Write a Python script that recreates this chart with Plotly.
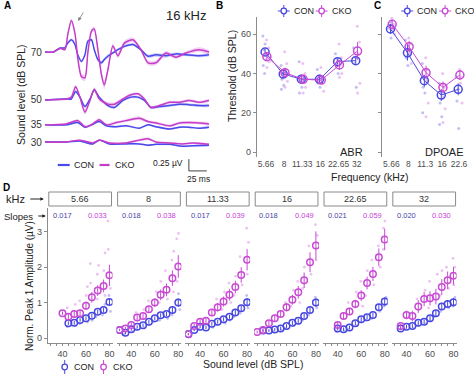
import plotly.graph_objects as go

# ======================= DATA =======================
# Panel A: mean ABR waveforms at 16 kHz (µV) with SEM, per sound level
levels_A = ["70", "50", "35", "30"]

t70 = [0, 12, 21, 28, 32, 37, 42, 46, 51, 56, 60, 65, 69, 74, 79, 83, 88, 95, 102, 111, 123, 134, 144, 155, 169, 183, 197, 215, 229]
con70 = [0, 0, 0.08, 0.09, 0.19, 0.26, 0.16, -0.06, -0.20, -0.06, 0.23, 0.26, 0.05, -0.16, -0.23, -0.16, -0.09, -0.02, 0.05, 0.12, 0.16, 0.05, -0.09, -0.06, -0.08, -0.04, -0.06, -0.08, -0.06]
cko70 = [0, 0, 0.08, 0.05, 0.37, 0.67, 0.40, -0.13, -0.52, -0.55, -0.02, 0.44, 0.49, 0.05, -0.48, -0.70, -0.38, 0.13, -0.08, 0.19, 0.26, 0.05, -0.23, -0.23, -0.02, -0.11, -0.02, 0.05, 0]
con70_se = [0.01, 0.01, 0.02, 0.02, 0.03, 0.03, 0.03, 0.03, 0.03, 0.03, 0.03, 0.03, 0.03, 0.03, 0.04, 0.04, 0.04, 0.03, 0.03, 0.03, 0.03, 0.03, 0.04, 0.04, 0.04, 0.03, 0.03, 0.03, 0.03]
cko70_se = [0.01, 0.01, 0.02, 0.02, 0.04, 0.05, 0.05, 0.05, 0.06, 0.07, 0.05, 0.05, 0.05, 0.05, 0.07, 0.09, 0.07, 0.05, 0.05, 0.05, 0.05, 0.04, 0.05, 0.05, 0.04, 0.04, 0.04, 0.05, 0.04]

t50 = [0, 30, 37, 43, 49, 56, 63, 69, 76, 88, 97, 109, 120, 130, 139, 148, 160, 174, 188, 201, 215, 229]
con50 = [0, 0.02, 0.02, 0.18, 0.06, -0.14, 0.02, 0.21, 0.06, -0.12, -0.16, -0.01, 0.06, 0.06, -0.01, -0.16, -0.14, -0.12, -0.09, -0.10, -0.12, -0.12]
cko50 = [0, 0.02, 0.06, 0.28, 0.06, -0.26, -0.01, 0.23, 0.02, -0.09, -0.09, 0.02, 0.11, 0.13, 0.02, -0.16, -0.12, -0.05, -0.05, -0.01, -0.05, -0.01]
con50_se = [0.01, 0.02, 0.02, 0.03, 0.03, 0.03, 0.03, 0.03, 0.03, 0.03, 0.03, 0.03, 0.03, 0.03, 0.03, 0.03, 0.03, 0.03, 0.03, 0.03, 0.03, 0.03]
cko50_se = [0.01, 0.02, 0.03, 0.04, 0.04, 0.06, 0.04, 0.04, 0.04, 0.04, 0.04, 0.03, 0.03, 0.03, 0.03, 0.03, 0.03, 0.03, 0.03, 0.03, 0.03, 0.03]

t35 = [0, 30, 46, 56, 65, 76, 86, 100, 113, 132, 144, 155, 174, 188, 201, 215, 229]
con35 = [0, 0, 0.05, -0.05, 0, 0.07, -0.02, -0.04, -0.02, -0.07, 0, -0.04, -0.09, -0.05, -0.05, -0.07, -0.05]
cko35 = [0, 0.02, 0.09, -0.04, 0, 0.11, 0, 0.05, 0.09, 0.14, 0.07, 0.04, -0.02, 0.04, 0.05, 0.04, 0.02]
con35_se = [0.01, 0.02, 0.02, 0.02, 0.02, 0.02, 0.02, 0.02, 0.02, 0.02, 0.02, 0.02, 0.02, 0.02, 0.02, 0.02, 0.02]
cko35_se = [0.01, 0.02, 0.03, 0.03, 0.03, 0.03, 0.03, 0.03, 0.03, 0.04, 0.03, 0.03, 0.03, 0.03, 0.03, 0.03, 0.03]

t30 = [0, 30, 49, 67, 76, 90, 113, 132, 144, 155, 174, 192, 206, 229]
con30 = [0, 0, 0.02, -0.04, 0.04, -0.04, -0.04, -0.04, -0.07, -0.05, -0.05, -0.09, -0.08, -0.07]
cko30 = [0, 0, 0.04, -0.02, 0.04, -0.02, -0.02, 0.04, 0.07, 0, -0.02, -0.04, -0.02, -0.05]
con30_se = [0.01, 0.01, 0.02, 0.02, 0.02, 0.02, 0.02, 0.02, 0.02, 0.02, 0.02, 0.02, 0.02, 0.02]
cko30_se = [0.01, 0.01, 0.02, 0.02, 0.02, 0.02, 0.02, 0.03, 0.03, 0.02, 0.02, 0.02, 0.02, 0.02]

# Panel B: ABR thresholds (dB SPL)
freq_B = ["5.66", "8", "11.33", "16", "22.65", "32"]
abr_con = [50.9, 39.7, 37.1, 37.0, 46.0, 46.5]
abr_con_se = [1.5, 2.0, 1.5, 1.5, 1.5, 1.5]
abr_cko = [48.5, 40.4, 37.0, 36.6, 44.3, 51.4]
abr_cko_se = [2.0, 2.5, 2.0, 2.0, 2.5, 4.5]
abr_con_ind = [[59, 55, 52, 47, 44, 40], [44, 40, 37, 34, 32], [46, 39, 36, 33, 30], [42, 39, 35, 33], [50, 47, 44, 40], [53, 48, 45, 33]]
abr_cko_ind = [[57, 53, 49, 46, 43], [51, 45, 42, 36, 33], [45, 40, 36, 33, 30], [43, 38, 35, 31], [55, 48, 44, 40, 38], [64, 56, 50, 35, 30]]

# Panel C: DPOAE thresholds (dB SPL)
freq_C = ["5.66", "8", "11.3", "16", "22.6"]
dp_con = [62.6, 50.5, 36.3, 29.0, 31.9]
dp_con_se = [2.5, 4.0, 3.0, 3.0, 3.0]
dp_cko = [65.0, 53.6, 40.4, 32.9, 39.2]
dp_cko_se = [2.0, 3.0, 3.5, 3.0, 2.5]
dp_con_ind = [[70, 66, 63, 58], [57, 52, 48, 44], [45, 38, 33, 30, 20], [35, 30, 25, 18, 14], [38, 32, 26, 12]]
dp_cko_ind = [[68, 65, 62, 60], [58, 55, 50, 45], [48, 42, 36, 25, 18], [40, 33, 28, 22, 15], [42, 38, 35, 25]]

# Panel D: normalised peak 1 amplitude vs sound level, per frequency
freq_D = ["5.66", "8", "11.33", "16", "22.65", "32"]
slopes_con = ["0.017", "0.018", "0.017", "0.018", "0.021", "0.020"]
slopes_cko = ["0.033", "0.038", "0.039", "0.049", "0.059", "0.030"]

lvl_con = [
    [45, 50, 55, 60, 65, 70, 75, 80],
    [30, 35, 40, 45, 50, 55, 60, 65, 70, 75, 80],
    [30, 35, 40, 45, 50, 55, 60, 65, 70, 75, 80],
    [35, 40, 45, 50, 55, 60, 65, 70, 75, 80],
    [40, 45, 50, 55, 60, 65, 70, 75, 80],
    [35, 40, 45, 50, 55, 60, 65, 70, 75, 80],
]
lvl_cko = [
    [40, 45, 50, 55, 60, 65, 70, 75, 80],
    [30, 35, 40, 45, 50, 55, 60, 65, 70, 75, 80],
    [30, 35, 40, 45, 50, 55, 60, 65, 70, 75, 80],
    [30, 35, 40, 45, 50, 55, 60, 65, 70, 75, 80],
    [40, 45, 50, 55, 60, 65, 70, 75, 80],
    [35, 40, 45, 50, 55, 60, 65, 70, 75, 80],
]
amp_con = [
    [0.42, 0.43, 0.51, 0.56, 0.63, 0.74, 0.79, 1.02],
    [0.23, 0.15, 0.25, 0.32, 0.36, 0.46, 0.56, 0.64, 0.68, 0.79, 1.00],
    [0.11, 0.23, 0.32, 0.30, 0.40, 0.46, 0.53, 0.60, 0.72, 0.84, 1.01],
    [0.21, 0.21, 0.24, 0.27, 0.34, 0.43, 0.49, 0.62, 0.79, 1.00],
    [0.27, 0.25, 0.30, 0.42, 0.53, 0.59, 0.65, 0.87, 1.03],
    [0.27, 0.32, 0.34, 0.43, 0.46, 0.56, 0.70, 0.89, 0.96, 1.01],
]
amp_cko = [
    [0.70, 0.60, 0.68, 0.70, 0.91, 1.15, 1.34, 1.47, 1.77],
    [0.23, 0.27, 0.37, 0.58, 0.62, 0.81, 1.00, 1.22, 1.36, 1.69, 2.02],
    [0.11, 0.34, 0.46, 0.49, 0.72, 0.87, 1.03, 1.22, 1.44, 1.78, 2.21],
    [0.17, 0.23, 0.42, 0.56, 0.68, 0.87, 1.08, 1.29, 1.63, 2.14, 2.61],
    [0.37, 0.62, 0.75, 0.96, 1.20, 1.55, 1.81, 2.28, 2.78],
    [0.34, 0.65, 0.62, 0.89, 1.10, 1.12, 1.17, 1.44, 1.63, 1.76],
]
se_con = [
    [0.05, 0.05, 0.05, 0.05, 0.06, 0.06, 0.07, 0.10],
    [0.03, 0.04, 0.04, 0.04, 0.05, 0.05, 0.05, 0.06, 0.06, 0.08, 0.12],
    [0.03, 0.04, 0.04, 0.05, 0.05, 0.05, 0.06, 0.06, 0.07, 0.08, 0.12],
    [0.04, 0.04, 0.04, 0.05, 0.05, 0.06, 0.06, 0.07, 0.09, 0.12],
    [0.05, 0.05, 0.05, 0.06, 0.06, 0.06, 0.07, 0.09, 0.12],
    [0.05, 0.05, 0.05, 0.06, 0.06, 0.07, 0.08, 0.10, 0.10, 0.12],
]
se_cko = [
    [0.05, 0.08, 0.10, 0.10, 0.12, 0.15, 0.15, 0.18, 0.30],
    [0.03, 0.05, 0.06, 0.08, 0.08, 0.10, 0.12, 0.15, 0.18, 0.22, 0.32],
    [0.03, 0.06, 0.08, 0.08, 0.10, 0.12, 0.14, 0.16, 0.18, 0.22, 0.30],
    [0.04, 0.05, 0.08, 0.10, 0.10, 0.12, 0.14, 0.18, 0.22, 0.28, 0.40],
    [0.08, 0.10, 0.10, 0.12, 0.15, 0.18, 0.20, 0.25, 0.30],
    [0.06, 0.12, 0.15, 0.18, 0.20, 0.20, 0.22, 0.22, 0.25, 0.25],
]
# individual animals (level dB, amplitude) shown as faint dots
dots_cko = [
    [(45, 0.85), (50, 0.95), (55, 1.05), (60, 1.45), (60, 1.2), (65, 2.1), (65, 1.55), (70, 2.05), (70, 1.8), (75, 2.4), (75, 1.9), (80, 3.3), (80, 2.5), (80, 1.4), (70, 1.1), (75, 1.2)],
    [(45, 0.72), (50, 0.8), (55, 1.05), (60, 1.3), (65, 1.6), (65, 1.0), (70, 1.9), (70, 1.1), (75, 2.2), (75, 2.45), (80, 2.95), (80, 2.8), (80, 1.6), (75, 1.3)],
    [(55, 1.1), (60, 1.3), (65, 1.55), (65, 1.0), (70, 1.75), (70, 1.2), (75, 2.3), (75, 1.5), (80, 3.1), (80, 2.7), (80, 1.8), (60, 0.8)],
    [(55, 1.0), (60, 1.35), (65, 1.6), (65, 1.0), (70, 2.0), (70, 1.4), (75, 2.6), (75, 1.8), (80, 3.2), (80, 2.9), (80, 2.2), (60, 0.9)],
    [(50, 1.0), (55, 1.3), (60, 1.6), (60, 0.9), (65, 1.9), (65, 1.2), (70, 2.2), (70, 1.5), (75, 2.6), (75, 2.0), (80, 3.3), (80, 2.5), (80, 3.1)],
    [(50, 1.1), (55, 1.35), (60, 1.6), (65, 1.8), (70, 1.9), (70, 1.2), (75, 2.0), (75, 1.4), (80, 2.25), (80, 2.0), (80, 1.5), (60, 0.85)],
]
dots_con = [
    [(45, 0.32), (50, 0.35), (55, 0.4), (60, 0.45), (65, 0.5), (70, 0.6), (75, 0.65), (80, 0.75), (80, 1.2), (75, 0.95)],
    [(35, 0.1), (40, 0.18), (45, 0.25), (50, 0.28), (55, 0.38), (60, 0.45), (65, 0.5), (70, 0.55), (75, 0.65), (80, 0.8), (80, 1.25)],
    [(40, 0.25), (50, 0.3), (55, 0.38), (60, 0.42), (65, 0.5), (70, 0.6), (75, 0.7), (80, 0.85), (80, 1.2)],
    [(45, 0.18), (50, 0.22), (55, 0.28), (60, 0.35), (65, 0.4), (70, 0.5), (75, 0.65), (80, 0.85), (80, 1.15)],
    [(40, 0.18), (45, 0.2), (50, 0.24), (55, 0.35), (60, 0.45), (65, 0.5), (70, 0.55), (75, 0.75), (80, 0.9), (80, 1.15)],
    [(40, 0.25), (45, 0.28), (50, 0.35), (55, 0.4), (60, 0.48), (65, 0.6), (70, 0.75), (75, 0.85), (80, 0.9), (80, 1.15)],
]
d_tick_vals = [30, 35, 40, 45, 50, 55, 60, 65, 70, 75, 80]
d_tick_text = ["", "", "40", "", "", "", "60", "", "", "", "80"]
group_names = ["CON", "CKO"]

# ======================= STYLE / LAYOUT =======================
W, H = 474, 374
def PX(x): return x / W
def PY(y): return 1 - y / H

FONT = "Liberation Sans, Arial, sans-serif"
CON_C = "#4848e0"
CKO_C = "#c84ad4"
CON_A = "#4a4aec"
CKO_A = "#c43cc8"
CON_F = "rgba(90,90,240,0.28)"
CKO_F = "rgba(210,90,220,0.28)"
CON_DOT = "rgba(80,70,220,0.35)"
CKO_DOT = "rgba(200,80,215,0.35)"
AX = "#8c8c8c"
TK = "#4d4d4d"

fig = go.Figure()

# ---------- Panel A ----------
stack_off = [0.0, -1.02, -1.55, -1.915]   # vertical stacking of the traces (µV)
A_sets = [
    (t70, con70, cko70, con70_se, cko70_se),
    (t50, con50, cko50, con50_se, cko50_se),
    (t35, con35, cko35, con35_se, cko35_se),
    (t30, con30, cko30, con30_se, cko30_se),
]

def add_band(t, y, se, off, color):
    up = [v + s + off for v, s in zip(y, se)]
    lo = [v - s + off for v, s in zip(y, se)]
    fig.add_trace(go.Scatter(x=t + t[::-1], y=up + lo[::-1], fill="toself", fillcolor=color,
                             mode="lines", line=dict(width=0, shape="spline", smoothing=0.7),
                             hoverinfo="skip", showlegend=False, xaxis="x", yaxis="y"))

for i, (t, c, k, cs, ks) in enumerate(A_sets):
    off = stack_off[i]
    add_band(t, c, cs, off, CON_F)
    add_band(t, k, ks, off, CKO_F)
for i, (t, c, k, cs, ks) in enumerate(A_sets):
    off = stack_off[i]
    fig.add_trace(go.Scatter(x=t, y=[v + off for v in c], mode="lines", name="CON",
                             line=dict(color=CON_A, width=1.5, shape="spline", smoothing=0.7),
                             showlegend=False, xaxis="x", yaxis="y"))
    fig.add_trace(go.Scatter(x=t, y=[v + off for v in k], mode="lines", name="CKO",
                             line=dict(color=CKO_A, width=1.5, shape="spline", smoothing=0.7),
                             showlegend=False, xaxis="x", yaxis="y"))

# ---------- Panels B & C ----------
jit = [-0.07, 0.05, -0.02, 0.08, -0.05, 0.02]

def threshold_panel(freqs, con, con_se, cko, cko_se, con_ind, cko_ind, xa, ya):
    idx = list(range(len(freqs)))
    for ind, col, d in ((con_ind, CON_DOT, -0.1), (cko_ind, CKO_DOT, 0.1)):
        xs, ys = [], []
        for i, vals in enumerate(ind):
            for j, v in enumerate(vals):
                xs.append(i + d + jit[j % len(jit)])
                ys.append(v)
        fig.add_trace(go.Scatter(x=xs, y=ys, mode="markers", marker=dict(size=3, color=col),
                                 showlegend=False, hoverinfo="skip", xaxis=xa, yaxis=ya))
    for vals, se, col, name, d in ((con, con_se, CON_C, "CON", -0.05), (cko, cko_se, CKO_C, "CKO", 0.05)):
        fig.add_trace(go.Scatter(x=[i + d for i in idx], y=vals, mode="lines+markers", name=name,
                                 line=dict(color=col, width=1),
                                 marker=dict(symbol="circle-open", size=8, color=col, line=dict(width=1.5, color=col)),
                                 error_y=dict(type="data", array=se, width=0, thickness=1, color=col),
                                 showlegend=False, xaxis=xa, yaxis=ya))

threshold_panel(freq_B, abr_con, abr_con_se, abr_cko, abr_cko_se, abr_con_ind, abr_cko_ind, "x2", "y2")
threshold_panel(freq_C, dp_con, dp_con_se, dp_cko, dp_cko_se, dp_con_ind, dp_cko_ind, "x3", "y3")

# ---------- Panel D ----------
djit = [-1.0, 0.8, -0.4, 1.2, 0.2, -1.3]
for p in range(6):
    xa, ya = f"x{4 + p}", f"y{4 + p}"
    for dots, col in ((dots_con[p], CON_DOT), (dots_cko[p], CKO_DOT)):
        fig.add_trace(go.Scatter(x=[d[0] + djit[j % len(djit)] for j, d in enumerate(dots)],
                                 y=[d[1] for d in dots], mode="markers",
                                 marker=dict(size=2.8, color=col), showlegend=False, hoverinfo="skip",
                                 xaxis=xa, yaxis=ya))
    for lv, amp, se, col, name in ((lvl_con[p], amp_con[p], se_con[p], CON_C, "CON"),
                                   (lvl_cko[p], amp_cko[p], se_cko[p], CKO_C, "CKO")):
        fig.add_trace(go.Scatter(x=lv, y=amp, mode="markers", name=name,
                                 marker=dict(symbol="circle-open", size=6.5, color=col, line=dict(width=1.5, color=col)),
                                 error_y=dict(type="data", array=se, width=0, thickness=1, color=col),
                                 showlegend=False, xaxis=xa, yaxis=ya))

# ---------- axes ----------
lay = dict(
    width=W, height=H, margin=dict(l=0, r=0, t=0, b=0),
    paper_bgcolor="white", plot_bgcolor="white", showlegend=False,
    font=dict(family=FONT, size=10, color="#222"),
)
A_top, A_bot = 15, 178
A_scale = 47.0  # px per µV
lay["xaxis"] = dict(domain=[PX(45), PX(212)], range=[0, 232], visible=False)
lay["yaxis"] = dict(domain=[PY(A_bot), PY(A_top)], range=[-(A_bot - 52) / A_scale, (52 - A_top) / A_scale],
                    tickvals=stack_off, ticktext=levels_A, showline=False, showgrid=False, zeroline=False,
                    ticks="", tickfont=dict(size=10, color="#333"), ticklabelstandoff=2)
thr_rng = [-2.5, 68.7]
lay["xaxis2"] = dict(domain=[PX(258), PX(370)], range=[-0.5, 5.65], tickvals=list(range(len(freq_B))),
                     ticktext=freq_B, tickangle=0, showline=False, showgrid=False, zeroline=False, ticks="",
                     tickfont=dict(size=8.5, color=TK), anchor="y2")
lay["yaxis2"] = dict(domain=[PY(157), PY(17)], range=thr_rng, tickvals=[0, 20, 40, 60],
                     showline=True, linecolor=AX, linewidth=1, ticks="outside", ticklen=3, tickcolor=AX,
                     showgrid=False, zeroline=False, tickfont=dict(size=9, color=TK), anchor="x2")
lay["xaxis3"] = dict(domain=[PX(384), PX(470)], range=[-0.53, 4.53], tickvals=list(range(len(freq_C))),
                     ticktext=freq_C, tickangle=0, showline=False, showgrid=False, zeroline=False, ticks="",
                     tickfont=dict(size=8.5, color=TK), anchor="y3")
lay["yaxis3"] = dict(domain=[PY(157), PY(17)], range=thr_rng, tickvals=[0, 20, 40, 60], showticklabels=False,
                     showline=True, linecolor=AX, linewidth=1, ticks="outside", ticklen=3, tickcolor=AX,
                     showgrid=False, zeroline=False, anchor="x3")
D_top, D_bot = 208, 343
d_yr = [-0.14, 3.67]
d_xr = [27.5, 82.6]
D_left = [48 + 69.1 * p for p in range(6)]
D_w = 65
for p in range(6):
    n = 4 + p
    lay[f"xaxis{n}"] = dict(domain=[PX(D_left[p]), PX(D_left[p] + D_w)], range=d_xr,
                            tickvals=d_tick_vals, ticktext=d_tick_text, tickangle=0, ticks="outside", ticklen=2,
                            tickcolor=AX, showline=True, linecolor=AX, linewidth=1, showgrid=False,
                            zeroline=False, tickfont=dict(size=9, color=TK), anchor=f"y{n}")
    yd = dict(domain=[PY(D_bot), PY(D_top)], range=d_yr, showgrid=False, zeroline=False, anchor=f"x{n}")
    if p == 0:
        yd.update(tickvals=[0, 1, 2, 3], showline=True, linecolor=AX, linewidth=1, ticks="outside",
                  ticklen=3, tickcolor=AX, tickfont=dict(size=9, color=TK))
    else:
        yd.update(visible=False)
    lay[f"yaxis{n}"] = yd

fig.update_layout(**lay)

# ---------- annotations & shapes ----------
ann = []
shapes = []
def txt(x, y, s, size=10, color="#222", xanchor="center", yanchor="middle", bold=False, angle=0, xref="paper", yref="paper"):
    ann.append(dict(x=x, y=y, xref=xref, yref=yref, text=(f"<b>{s}</b>" if bold else s), showarrow=False,
                    font=dict(size=size, color=color, family=FONT), xanchor=xanchor, yanchor=yanchor,
                    textangle=angle))
def pline(x0, y0, x1, y1, color, width=1):
    shapes.append(dict(type="line", xref="paper", yref="paper", x0=PX(x0), y0=PY(y0), x1=PX(x1), y1=PY(y1),
                       line=dict(color=color, width=width)))
def pcircle(cx, cy, r, color, width=1.3):
    shapes.append(dict(type="circle", xref="paper", yref="paper", x0=PX(cx - r), x1=PX(cx + r),
                       y0=PY(cy + r), y1=PY(cy - r), line=dict(color=color, width=width), fillcolor="white"))

txt(PX(2), PY(5), "A", 10, "#000", "left", bold=True)
txt(PX(215), PY(5), "B", 10, "#000", "left", bold=True)
txt(PX(374), PY(5), "C", 10, "#000", "left", bold=True)
txt(PX(1), PY(187), "D", 10, "#000", "left", bold=True)

txt(PX(187), PY(16), "16 kHz", 13)
txt(PX(21), PY(95), "Sound level (dB SPL)", 10.5, angle=-90)
# scale bar (25 ms, 0.25 µV) in data units of panel A
sb_t0, sb_y0 = 201, -2.53
shapes.append(dict(type="line", xref="x", yref="y", x0=sb_t0, x1=sb_t0, y0=sb_y0, y1=sb_y0 + 0.25,
                   line=dict(color="#444", width=1)))
shapes.append(dict(type="line", xref="x", yref="y", x0=sb_t0, x1=sb_t0 + 25, y0=sb_y0, y1=sb_y0,
                   line=dict(color="#444", width=1)))
txt(PX(186), PY(163), "0.25 µV", 8.5, xanchor="right")
txt(PX(199), PY(179), "25 ms", 8.5)

# legend of A (lines)
for (x0, x1, tx), name, col in (((58, 70, 72), group_names[0], CON_A), ((100, 110, 113), group_names[1], CKO_A)):
    pline(x0, 165, x1, 165, col, 2.2)
    txt(PX(tx), PY(165), name, 9, xanchor="left")

# legends of B and C (point + cross)
for cx, name, col in ((285, group_names[0], CON_C), (323, group_names[1], CKO_C),
                      (409, group_names[0], CON_C), (447, group_names[1], CKO_C)):
    pline(cx - 6, 11, cx + 6, 11, col, 1)
    pline(cx, 5, cx, 17, col, 1)
    pcircle(cx, 11, 2.8, col)
    txt(PX(cx + 8), PY(11), name, 9, xanchor="left")

txt(PX(233), PY(76), "Threshold (dB SPL)", 10.5, angle=-90)
txt(PX(372), PY(177), "Frequency (kHz)", 10.5)
txt(PX(367), PY(152), "ABR", 11, xanchor="right")
txt(PX(468), PY(152), "DPOAE", 11, xanchor="right")

txt(PX(4), PY(199), "kHz", 11, xanchor="left")
txt(PX(2), PY(216), "Slopes", 9.5, xanchor="left")
ann.append(dict(x=PX(44), y=PY(199), xref="paper", yref="paper", ax=-15, ay=0, text="", showarrow=True,
                arrowhead=2, arrowsize=0.7, arrowwidth=1, arrowcolor="#222"))
ann.append(dict(x=PX(46), y=PY(216), xref="paper", yref="paper", ax=-9, ay=0, text="", showarrow=True,
                arrowhead=2, arrowsize=0.7, arrowwidth=1, arrowcolor="#222"))

txt(PX(29), PY(286), "Norm. Peak 1 Amplitude (µV)", 10, angle=-90)
txt(PX(254), PY(364), "Sound level (dB SPL)", 10.5)

# legend of D (point range)
for cx, name, col in ((65, group_names[0], CON_C), (104, group_names[1], CKO_C)):
    pline(cx, 360, cx, 374, col, 1)
    pcircle(cx, 367, 2.8, col)
    txt(PX(cx + 7), PY(367), name, 9, xanchor="left")

# arrows in panel A
ann.append(dict(x=PX(78.5), y=PY(21), xref="paper", yref="paper", ax=6, ay=-10, text="", showarrow=True,
                arrowhead=2, arrowsize=0.9, arrowwidth=0.8, arrowcolor="#777"))
ann.append(dict(x=PX(60), y=PY(44), xref="paper", yref="paper", ax=-2, ay=-2, text="", showarrow=True,
                arrowhead=2, arrowsize=2.2, arrowwidth=1.5, arrowcolor="#666"))

# header boxes and slopes for D
for p in range(6):
    l, r = D_left[p] + 1, D_left[p] + D_w - 1
    shapes.append(dict(type="rect", xref="paper", yref="paper", x0=PX(l), x1=PX(r), y0=PY(206), y1=PY(192),
                       line=dict(color="#8a8a8a", width=1), fillcolor="white"))
    txt(PX((l + r) / 2), PY(199), freq_D[p], 9, "#333")
    n = 4 + p
    txt(40, 3.45, slopes_con[p], 7.5, "#4a44a8", xref=f"x{n}", yref=f"y{n}")
    txt(70, 3.45, slopes_cko[p], 7.5, "#c63fd6", xref=f"x{n}", yref=f"y{n}")

fig.update_layout(annotations=ann, shapes=shapes)
fig.write_html("out.html", config={"displayModeBar": False},
               post_script="document.body.style.margin='0px';document.body.style.overflow='hidden';")
